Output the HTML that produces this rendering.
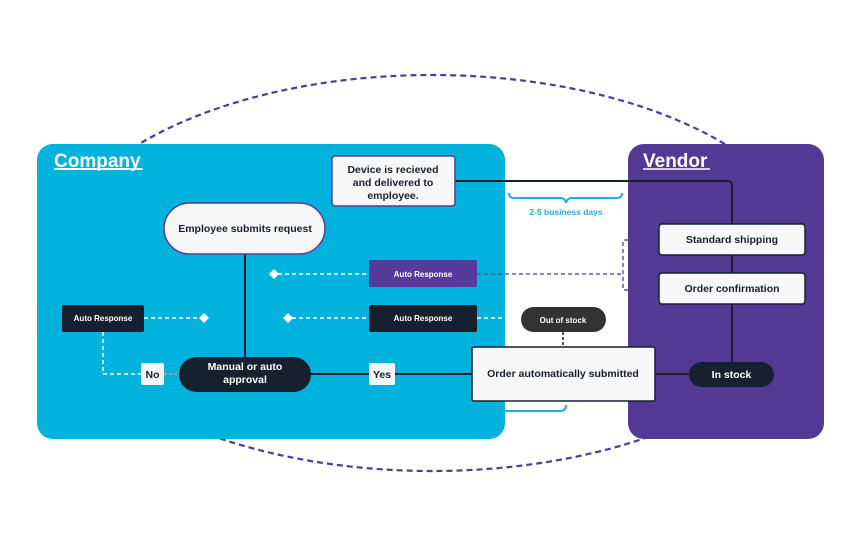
<!DOCTYPE html>
<html><head><meta charset="utf-8"><style>
html,body{margin:0;padding:0;background:#fff}
svg{display:block}
text{font-family:"Liberation Sans",sans-serif;font-weight:bold}
</style></head><body>
<svg width="849" height="548" viewBox="0 0 849 548" xmlns="http://www.w3.org/2000/svg">
<ellipse cx="432" cy="273" rx="386" ry="198" fill="none" stroke="#4f3c98" stroke-width="2.2" stroke-dasharray="6,4"/>
<rect x="37" y="144" width="468" height="295" rx="16" fill="#00b2dc"/>
<rect x="628" y="144" width="196" height="295" rx="16" fill="#523a94"/>
<text x="54" y="167" font-size="19" fill="#fff" text-decoration="underline">Company</text>
<line x1="54" y1="169" x2="143" y2="169" stroke="#fff" stroke-width="1.5"/>
<text x="643" y="167" font-size="19" fill="#fff">Vendor</text>
<line x1="643" y1="169" x2="710" y2="169" stroke="#fff" stroke-width="1.5"/>
<!-- solid connectors -->
<path d="M455 181 H727 Q732 181 732 186 V362" fill="none" stroke="#16202e" stroke-width="2"/>
<line x1="245" y1="254" x2="245" y2="357" stroke="#16202e" stroke-width="2"/>
<line x1="311" y1="374" x2="472" y2="374" stroke="#16202e" stroke-width="2"/>
<line x1="655" y1="374" x2="689" y2="374" stroke="#16202e" stroke-width="2"/>
<!-- dashed connectors -->
<line x1="278" y1="274" x2="369" y2="274" stroke="#fff" stroke-width="1.5" stroke-dasharray="4,3"/>
<path d="M477 274 H622 M628 240 H623 V290 H628" fill="none" stroke="#6a55ad" stroke-width="1.5" stroke-dasharray="4,3"/>
<line x1="292" y1="318" x2="369" y2="318" stroke="#fff" stroke-width="1.5" stroke-dasharray="4,3"/>
<line x1="477" y1="318" x2="505" y2="318" stroke="#fff" stroke-width="1.5" stroke-dasharray="4,3"/>
<line x1="144" y1="318" x2="200" y2="318" stroke="#fff" stroke-width="1.5" stroke-dasharray="4,3"/>
<path d="M103 332 V374 H141" fill="none" stroke="#fff" stroke-width="1.5" stroke-dasharray="4,3"/>
<line x1="164" y1="374" x2="179" y2="374" stroke="#e88" stroke-width="1.5" stroke-dasharray="3,2"/>
<line x1="563" y1="332" x2="563" y2="347" stroke="#16202e" stroke-width="1.5" stroke-dasharray="3,2"/>
<path d="M274 269 L279 274 L274 279 L269 274Z M204 313 L209 318 L204 323 L199 318Z M288 313 L293 318 L288 323 L283 318Z" fill="#fff"/>
<!-- braces -->
<path d="M509 193 Q509 198 514 198 H560 Q565 198 566 203 Q567 198 572 198 H617 Q622 198 622 193" fill="none" stroke="#1cb0dc" stroke-width="2"/>
<text x="566" y="215" font-size="8.5" fill="#1cb0dc" text-anchor="middle">2-5 business days</text>
<path d="M505 411 H560 Q566 411 566 405" fill="none" stroke="#1cb0dc" stroke-width="2"/>
<!-- nodes -->
<rect x="332" y="156" width="123" height="50" rx="3" fill="#f7f7f7" stroke="#5a3a94" stroke-width="1.5"/>
<text font-size="10.5" fill="#16202e" text-anchor="middle"><tspan x="393" y="173">Device is recieved</tspan><tspan x="393" y="186">and delivered to</tspan><tspan x="393" y="199">employee.</tspan></text>
<rect x="164" y="203" width="161" height="51" rx="25.5" fill="#f7f7f7" stroke="#5a3a94" stroke-width="1.5"/>
<text x="245" y="232" font-size="10.5" fill="#16202e" text-anchor="middle">Employee submits request</text>
<rect x="369" y="260" width="108" height="27" rx="2" fill="#563b9a"/>
<text x="423" y="277" font-size="8" fill="#fff" text-anchor="middle">Auto Response</text>
<rect x="369" y="305" width="108" height="27" rx="2" fill="#16202e"/>
<text x="423" y="321" font-size="8" fill="#fff" text-anchor="middle">Auto Response</text>
<rect x="62" y="305" width="82" height="27" rx="2" fill="#16202e"/>
<text x="103" y="321" font-size="8" fill="#fff" text-anchor="middle">Auto Response</text>
<rect x="179" y="357" width="132" height="35" rx="17.5" fill="#16202e"/>
<text font-size="10.5" fill="#fff" text-anchor="middle"><tspan x="245" y="370">Manual or auto</tspan><tspan x="245" y="383">approval</tspan></text>
<rect x="141" y="363" width="23" height="22" rx="2" fill="#f2f6fa"/>
<text x="152.5" y="378" font-size="10.5" fill="#16202e" text-anchor="middle">No</text>
<rect x="369" y="363" width="26" height="22" rx="2" fill="#f2f6fa"/>
<text x="382" y="378" font-size="10.5" fill="#16202e" text-anchor="middle">Yes</text>
<rect x="521" y="307" width="85" height="25" rx="12.5" fill="#333"/>
<text x="563" y="323" font-size="8" fill="#fff" text-anchor="middle">Out of stock</text>
<rect x="472" y="347" width="183" height="54" rx="2" fill="#f7f7f7" stroke="#16202e" stroke-width="1.5"/>
<text x="563" y="377" font-size="10.5" fill="#16202e" text-anchor="middle">Order automatically submitted</text>
<rect x="659" y="224" width="146" height="31" rx="3" fill="#f7f7f7" stroke="#16202e" stroke-width="1.5"/>
<text x="732" y="243" font-size="10.5" fill="#16202e" text-anchor="middle">Standard shipping</text>
<rect x="659" y="273" width="146" height="31" rx="3" fill="#f7f7f7" stroke="#16202e" stroke-width="1.5"/>
<text x="732" y="292" font-size="10.5" fill="#16202e" text-anchor="middle">Order confirmation</text>
<rect x="689" y="362" width="85" height="25" rx="12.5" fill="#16202e"/>
<text x="731.5" y="378" font-size="10.5" fill="#fff" text-anchor="middle">In stock</text>
</svg>
</body></html>
